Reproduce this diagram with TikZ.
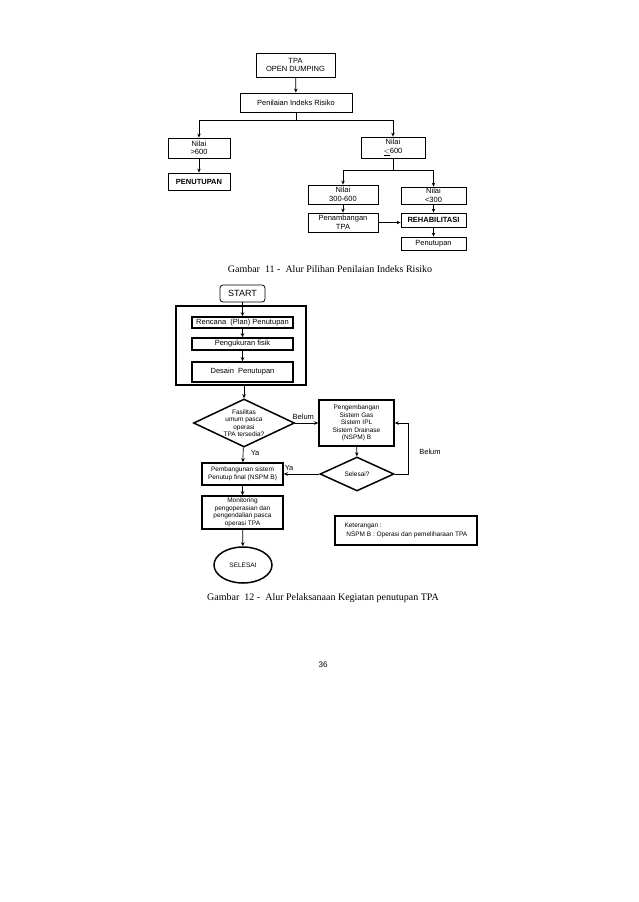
\documentclass[tikz,border=0pt]{standalone}
\usepackage{fontspec}
\setmainfont{Liberation Sans}
\newfontfamily\capfont{Liberation Serif}
\usetikzlibrary{shapes.geometric,arrows.meta}
\begin{document}
\begin{tikzpicture}[x=1pt,y=-1pt,
  bx/.style={draw,line width=0.8pt,minimum width=#1,inner sep=0pt,align=center,font=\fontsize{7.5}{8.5}\selectfont},
  ar/.style={-{Stealth[length=4pt,width=3.5pt]},line width=0.7pt},
  ln/.style={line width=0.7pt},
  lb/.style={font=\fontsize{7.5}{8.5}\selectfont},
  captxt/.style={font=\capfont\fontsize{10}{12}\selectfont}]
\useasboundingbox (0,0) rectangle (638,902);
% Diagram 1
\node[bx=79pt,minimum height=24pt] (tpa) at (295.5,65) {TPA\\OPEN DUMPING};
\node[bx=112pt,minimum height=19pt] (pir) at (296,102.5) {Penilaian Indeks Risiko};
\node[bx=62pt,minimum height=20pt] (n600) at (199,148) {Nilai\\>600};
\node[bx=62pt,minimum height=17pt,font=\fontsize{7.5}{8.5}\selectfont\bfseries] (pen) at (199,181.5) {PENUTUPAN};
\node[bx=64pt,minimum height=21pt] (nl600) at (393,147.5) {Nilai\\$\underline{<}$600};
\node[bx=70pt,minimum height=19pt] (n300600) at (343,194.5) {Nilai\\300-600};
\node[bx=65pt,minimum height=17pt] (n300) at (433.5,195.5) {Nilai\\<300};
\node[bx=70pt,minimum height=19pt] (ptpa) at (343,222.5) {Penambangan\\TPA};
\node[bx=65pt,minimum height=14pt,font=\fontsize{7.5}{8.5}\selectfont\bfseries] (rehab) at (433.5,220) {REHABILITASI};
\node[bx=65pt,minimum height=13pt] (penut) at (433.5,243.5) {Penutupan};
\draw[ar] (tpa) -- (pir);
\coordinate (b1) at (296,120);
\draw[ln] (pir) -- (b1);
\draw[ar] (b1) -| (n600);
\draw[ar] (b1) -| (nl600);
\draw[ar] (n600) -- (pen);
\coordinate (b2) at (393,170);
\draw[ln] (nl600) -- (b2);
\draw[ar] (b2) -| (n300600);
\draw[ar] (b2) -| (n300);
\draw[ar] (n300600) -- (ptpa);
\draw[ar] (n300) -- (rehab);
\draw[ar] (ptpa) -- (ptpa -| rehab.west);
\draw[ar] (rehab) -- (penut);
\node[captxt] (c1) at (330,269) {Gambar\ \ 11 -\ \ Alur Pilihan Penilaian Indeks Risiko};
% Diagram 2
\node[bx=45pt,minimum height=17pt,rounded corners=3pt,font=\fontsize{9}{10}\selectfont] (start) at (242.5,293.5) {START};
\node[draw,line width=2pt,minimum width=130pt,minimum height=79pt,inner sep=0pt] (big) at (241,345.5) {};
\node[bx=101pt,minimum height=11pt,line width=1.5pt] (ren) at (242.5,322.5) {Rencana\ \ (Plan) Penutupan};
\node[bx=101pt,minimum height=12pt,line width=1.5pt] (ukur) at (242.5,344) {Pengukuran fisik};
\node[bx=101pt,minimum height=20pt,line width=1.5pt] (des) at (242.5,372) {Desain\ \ Penutupan};
\node[draw,diamond,aspect=2.1,line width=1.5pt,minimum width=101pt,minimum height=48pt,inner sep=0pt,align=center,font=\fontsize{6.5}{7.5}\selectfont] (fas) at (244,423) {Fasilitas\\umum pasca\\operasi\\TPA tersedia?};
\node[bx=75pt,minimum height=46pt,line width=1.5pt,font=\fontsize{6.5}{7.5}\selectfont] (peng) at (356.5,423) {Pengembangan\\Sistem Gas\\Sistem IPL\\Sistem Drainase\\(NSPM) B};
\node[draw,diamond,aspect=2.2,line width=1.5pt,minimum width=74pt,minimum height=34pt,inner sep=0pt,font=\fontsize{6.5}{7.5}\selectfont] (sel) at (357,474) {Selesai?};
\node[bx=81pt,minimum height=22pt,line width=1.5pt,font=\fontsize{6.5}{7.5}\selectfont] (pemb) at (242.5,474) {Pembangunan sistem\\Penutup final (NSPM B)};
\node[bx=81pt,minimum height=33pt,line width=1.5pt,font=\fontsize{6.5}{7.5}\selectfont] (mon) at (242.5,512.5) {Monitoring\\pengoperasian dan\\pengendalian pasca\\operasi TPA};
\node[draw,ellipse,line width=1.5pt,minimum width=58pt,minimum height=36pt,inner sep=0pt,font=\fontsize{6.5}{7.5}\selectfont] (sls) at (243,565) {SELESAI};
\node[draw,line width=1.5pt,minimum width=142pt,minimum height=29pt,inner sep=0pt] (ket) at (406,530.5) {};
\node[anchor=west,align=left,font=\fontsize{6.5}{9}\selectfont] (kettxt) at (341,530.5) {Keterangan :\\\ NSPM B : Operasi dan pemeliharaan TPA};
\draw[ar] (start) -- (ren);
\draw[ar] (ren) -- (ukur);
\draw[ar] (ukur) -- (des);
\draw[ar] (big.south -| fas) -- (fas);
\draw[ar] (fas) -- node[lb,above,pos=0.35] {Belum} (peng);
\draw[ar] (fas) -- node[lb,right,pos=0.4,xshift=4pt] {Ya} (pemb);
\draw[ar] (peng) -- (sel);
\draw[ar] (sel) -- node[lb,above,pos=0.85] {Ya} (pemb);
\coordinate (lp) at (408,474);
\draw[ar] (sel.east) -- (lp) -- (lp |- peng) -- (peng);
\node[lb] (bl2) at (430,452) {Belum};
\draw[ar] (pemb) -- (mon);
\draw[ar] (mon) -- (sls);
\node[captxt] (c2) at (323,598) {Gambar\ \ 12 -\ \ Alur Pelaksanaan Kegiatan penutupan TPA};
\node[font=\fontsize{8}{9}\selectfont] (pg) at (323,665) {36};
\end{tikzpicture}
\end{document}
